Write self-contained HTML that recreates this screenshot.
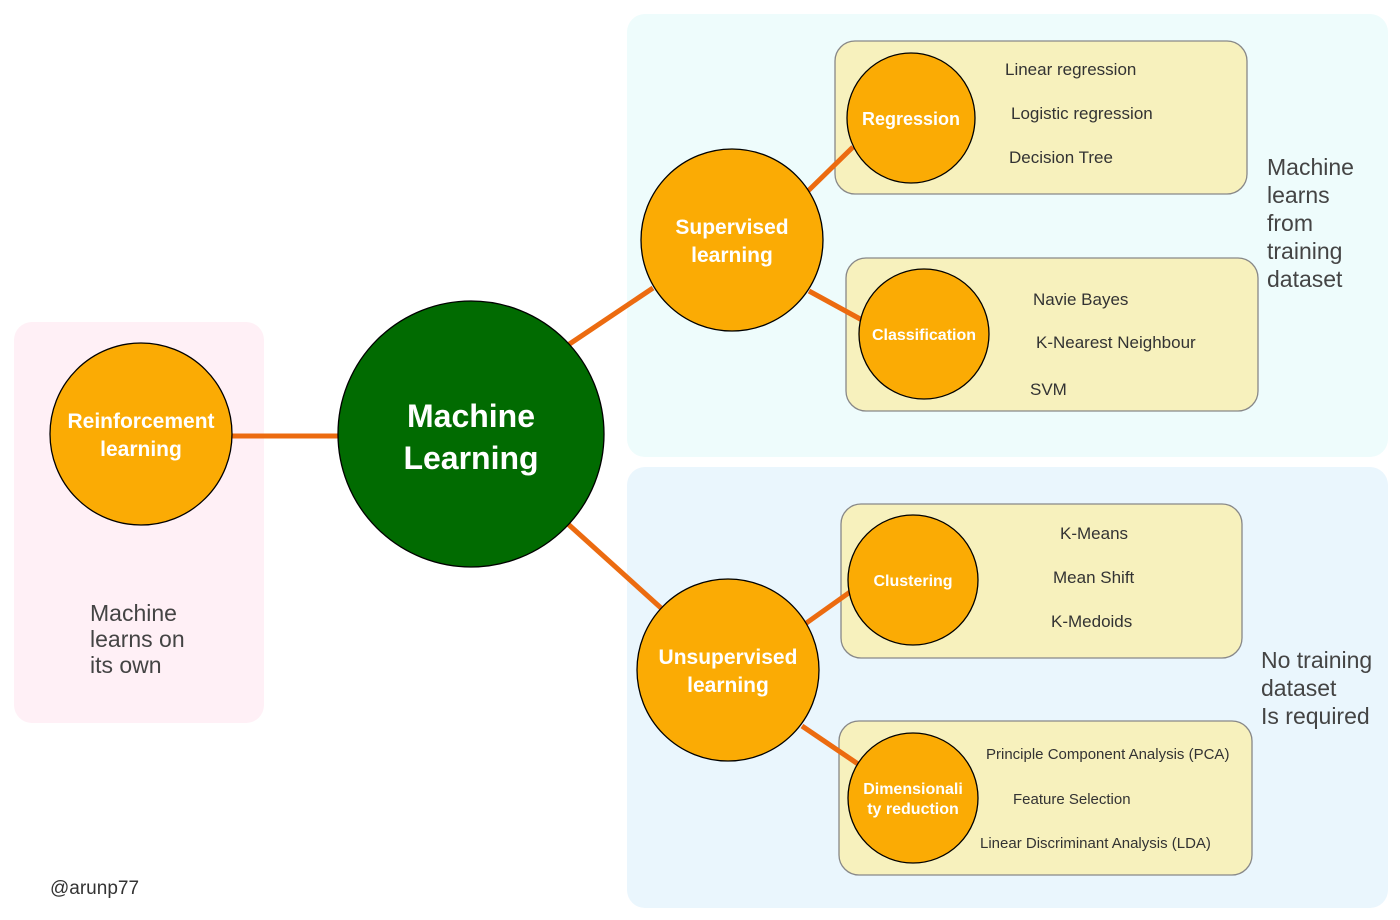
<!DOCTYPE html>
<html><head><meta charset="utf-8"><style>
html,body{margin:0;padding:0;background:#fff;}
svg{display:block;font-family:"Liberation Sans",sans-serif;}
.w{fill:#fff;font-weight:bold;text-anchor:middle;}
.t{fill:#333;font-size:17px;}
.s{fill:#333;font-size:15px;}
.n{fill:#444;font-size:23px;}
</style></head><body>
<svg width="1400" height="920" viewBox="0 0 1400 920">
<rect x="14" y="322" width="250" height="401" rx="18" fill="#fff0f6"/>
<rect x="627" y="14" width="761" height="443" rx="18" fill="#eefcfc"/>
<rect x="627" y="467" width="761" height="441" rx="18" fill="#eaf6fd"/>
<g fill="#f7f1bd" stroke="#888" stroke-width="1.3">
<rect x="835" y="41" width="412" height="153" rx="20"/>
<rect x="846" y="258" width="412" height="153" rx="20"/>
<rect x="841" y="504" width="401" height="154" rx="20"/>
<rect x="839" y="721" width="413" height="154" rx="20"/>
</g>
<g stroke="#ec6b10" stroke-width="5">
<line x1="232" y1="436" x2="338" y2="436"/>
<line x1="568" y1="345" x2="653" y2="288"/>
<line x1="568" y1="524" x2="661" y2="608"/>
<line x1="808" y1="191" x2="853" y2="147"/>
<line x1="809" y1="291" x2="862" y2="320"/>
<line x1="805" y1="624" x2="850" y2="592"/>
<line x1="802" y1="726" x2="858" y2="764"/>
</g>
<g stroke="#000" stroke-width="1.3" fill="#fbab04">
<circle cx="141" cy="434" r="91"/>
<circle cx="732" cy="240" r="91"/>
<circle cx="728" cy="670" r="91"/>
<ellipse cx="911" cy="118" rx="64" ry="65"/>
<ellipse cx="924" cy="334" rx="65" ry="65"/>
<ellipse cx="913" cy="580" rx="65" ry="65"/>
<ellipse cx="913" cy="798" rx="65" ry="65"/>
</g>
<circle cx="471" cy="434" r="133" fill="#016b01" stroke="#000" stroke-width="1.3"/>
<text class="w" x="471" y="427" font-size="32">Machine</text>
<text class="w" x="471" y="469" font-size="32">Learning</text>
<text class="w" x="141" y="428" font-size="21">Reinforcement</text>
<text class="w" x="141" y="456" font-size="21">learning</text>
<text class="w" x="732" y="234" font-size="21">Supervised</text>
<text class="w" x="732" y="262" font-size="21">learning</text>
<text class="w" x="728" y="664" font-size="21">Unsupervised</text>
<text class="w" x="728" y="692" font-size="21">learning</text>
<text class="w" x="911" y="125" font-size="18">Regression</text>
<text class="w" x="924" y="340" font-size="16">Classification</text>
<text class="w" x="913" y="586" font-size="16">Clustering</text>
<text class="w" x="913" y="794" font-size="16">Dimensionali</text>
<text class="w" x="913" y="814" font-size="16">ty reduction</text>
<text class="t" x="1005" y="75">Linear regression</text>
<text class="t" x="1011" y="119">Logistic regression</text>
<text class="t" x="1009" y="163">Decision Tree</text>
<text class="t" x="1033" y="305">Navie Bayes</text>
<text class="t" x="1036" y="348">K-Nearest Neighbour</text>
<text class="t" x="1030" y="395">SVM</text>
<text class="t" x="1060" y="539">K-Means</text>
<text class="t" x="1053" y="583">Mean Shift</text>
<text class="t" x="1051" y="627">K-Medoids</text>
<text class="s" x="986" y="759">Principle Component Analysis (PCA)</text>
<text class="s" x="1013" y="804">Feature Selection</text>
<text class="s" x="980" y="848">Linear Discriminant Analysis (LDA)</text>
<text class="n" x="1267" y="175">Machine</text>
<text class="n" x="1267" y="203">learns</text>
<text class="n" x="1267" y="231">from</text>
<text class="n" x="1267" y="259">training</text>
<text class="n" x="1267" y="287">dataset</text>
<text class="n" x="1261" y="668">No training</text>
<text class="n" x="1261" y="696">dataset</text>
<text class="n" x="1261" y="724">Is required</text>
<text class="n" x="90" y="621" font-size="21">Machine</text>
<text class="n" x="90" y="647" font-size="21">learns on</text>
<text class="n" x="90" y="673" font-size="21">its own</text>
<text x="50" y="894" fill="#333" font-size="19">@arunp77</text>
</svg>
</body></html>
